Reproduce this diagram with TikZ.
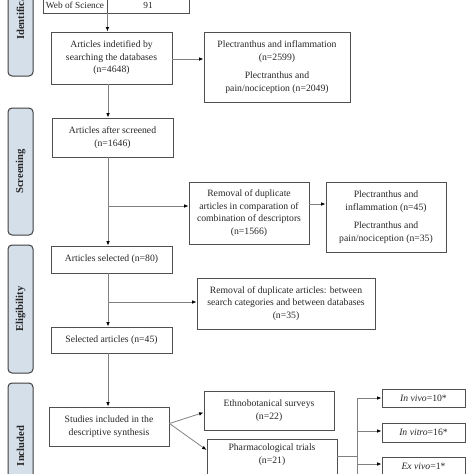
\documentclass[tikz,border=0pt]{standalone}
\usepackage{fontspec}
\setmainfont{Liberation Serif}
\usetikzlibrary{arrows.meta,calc}
\definecolor{boxgray}{HTML}{505050}
\definecolor{linegray}{HTML}{808080}
\definecolor{sidegray}{HTML}{3F3F3F}
\definecolor{sidefill}{HTML}{D5DFEA}
\definecolor{textgray}{HTML}{262626}
\begin{document}
\begin{tikzpicture}[x=1pt,y=-1pt,
  txt/.style={align=center, inner sep=0pt, text=textgray, font=\fontsize{9.7}{12.5}\selectfont},
  box/.style={txt, draw=boxgray, line width=0.9pt},
  cell/.style={box, minimum height=16, inner sep=0pt, font=\fontsize{9.3}{12}\selectfont},
  side/.style={draw=sidegray, fill=sidefill, rounded corners=4pt, line width=1pt},
  sidetext/.style={rotate=90, inner sep=0pt, text=textgray, font=\fontsize{10.6}{12}\selectfont\bfseries},
  conn/.style={draw=linegray, line width=0.8pt},
  arr/.style={conn, -{Latex[length=4.5pt,width=3.6pt,color=black]}}
]
\path[use as bounding box] (0,0) rectangle (474,474);
\clip (0,0) rectangle (474,474);

% side labels
\draw[side] (8,-60) rectangle (33,76);
\node[sidetext, anchor=west] (lid) at (20.5,40) {Identification};
\draw[side] (8,108) rectangle (33,235);
\node[sidetext] (lsc) at (20.5,171.5) {Screening};
\draw[side] (8,245) rectangle (33,373);
\node[sidetext] (lel) at (20.5,309) {Eligibility};
\draw[side] (8,383) rectangle (33,509);
\node[sidetext] (lin) at (20.5,446) {Included};

% table (last row visible)
\node[cell, minimum width=64] (cellL) at (75,5) {Web of Science};
\node[cell, minimum width=82] (cellR) at (148,5) {91};

\coordinate (spine) at (108,0);

% boxes
\node[box, minimum width=121, minimum height=52] (box1) at (111.5,58)
  {Articles indetified by\\searching the databases\\(n=4648)};
\node[box, minimum width=146, minimum height=70] (box2) at (277,67)
  {Plectranthus and inflammation\\(n=2599)\\[6pt]Plectranthus and\\pain/nociception (n=2049)};
\node[box, minimum width=121, minimum height=39] (box3) at (112.5,137.5)
  {Articles after screened\\(n=1646)};
\node[box, minimum width=120, minimum height=62] (box4) at (249,213)
  {Removal of duplicate\\articles in comparation of\\combination of descriptors\\(n=1566)};
\node[box, minimum width=120, minimum height=70] (box4b) at (386,217)
  {Plectranthus and\\inflammation (n=45)\\[6pt]Plectranthus and\\pain/nociception (n=35)};
\node[box, minimum width=121, minimum height=27] (box5) at (111.5,259.5)
  {Articles selected (n=80)};
\node[box, minimum width=178, minimum height=51] (box7) at (286,303.5)
  {Removal of duplicate articles: between\\search categories and between databases\\(n=35)};
\node[box, minimum width=121, minimum height=26] (box6) at (111.5,340)
  {Selected articles (n=45)};
\node[box, minimum width=120, minimum height=39] (box8) at (109,426.5)
  {Studies included in the\\descriptive synthesis};
\node[box, minimum width=130, minimum height=39] (box9) at (269,410.5)
  {Ethnobotanical surveys\\(n=22)};
\node[box, minimum width=130, minimum height=60, anchor=north] (box10) at (272,439) {};
\node[txt, anchor=north] (box10t) at ([yshift=-5pt]box10.north)
  {Pharmacological trials\\(n=21)};
\node[box, minimum width=83, minimum height=18] (box11) at (423.5,398)
  {\textit{In vivo}=10*};
\node[box, minimum width=83, minimum height=19] (box12) at (423.5,432.5)
  {\textit{In vitro}=16*};
\node[box, minimum width=83, minimum height=19] (box13) at (423.5,466.5)
  {\textit{Ex vivo}=1*};

% connectors
\draw[arr] (cellL.south east) -- (cellL.south east |- box1.north);
\draw[arr] (box1.east |- 0,59) -- (box2.west |- 0,59);
\draw[arr] (box1.south -| spine) -- (box3.north -| spine);
\draw[arr] (box3.south -| spine) -- (box5.north -| spine);
\coordinate (b1) at (108,206);
\draw[arr] (b1) -- (b1 -| box4.west);
\draw[arr] (box4.east |- 0,204) -- (box4b.west |- 0,204);
\draw[arr] (box5.south -| spine) -- (box6.north -| spine);
\coordinate (b2) at (108,302);
\draw[arr] (b2) -- (b2 -| box7.west);
\draw[arr] (box6.south -| spine) -- (box8.north -| spine);
\draw[arr] ([yshift=3pt]box8.east) -- ([yshift=-2pt]box9.west);
\draw[arr] ([yshift=3pt]box8.east) -- ([yshift=-11pt]box10.north west);
\coordinate (fk) at (357,456);
\coordinate (ftop) at (357,398);
\coordinate (fbot) at (357,480);
\draw[conn] (box10.east |- fk) -- (fk);
\draw[conn] (ftop) -- (fbot);
\draw[arr] (ftop) -- (ftop -| box11.west);
\draw[arr] (ftop |- 0,431) -- (box12.west |- 0,431);
\draw[arr] (ftop |- 0,464) -- (box13.west |- 0,464);
\end{tikzpicture}
\end{document}
